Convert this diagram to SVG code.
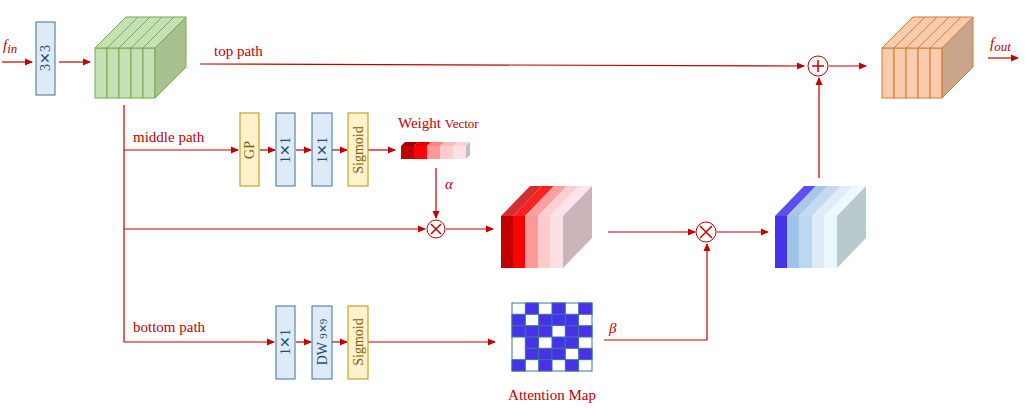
<svg xmlns="http://www.w3.org/2000/svg" width="1026" height="408" viewBox="0 0 1026 408">
<defs>
<marker id="ah" markerWidth="8" markerHeight="8" refX="7" refY="4" orient="auto" markerUnits="userSpaceOnUse"><path d="M0,0.5 L8,4 L0,7.5 Z" fill="#c00000"/></marker>
<style>
.c{stroke:#c00000;stroke-width:1.2;fill:none}
.t{font-family:"Liberation Serif",serif;fill:#c00000;font-size:15px}
.bb{fill:#deebf7;stroke:#41719c;stroke-width:1}
.yb{fill:#fff2cc;stroke:#bf9000;stroke-width:1}
.bt{font-family:"Liberation Serif",serif;fill:#1f4e79;font-size:14px}
.yt{font-family:"Liberation Serif",serif;fill:#7f6000;font-size:14px}
.g{fill:#c5e0b4;stroke:#70ad47;stroke-width:1}
.o{fill:#f8cbad;stroke:#d97b33;stroke-width:1}
</style>
</defs>
<rect width="1026" height="408" fill="#fff"/>
<g id="connectors">
<line class="c" x1="2" y1="62" x2="32" y2="62" marker-end="url(#ah)"/>
<line class="c" x1="59" y1="62" x2="90" y2="62" marker-end="url(#ah)"/>
<line class="c" x1="200" y1="64" x2="804" y2="66" marker-end="url(#ah)"/>
<line class="c" x1="829" y1="66" x2="866" y2="66" marker-end="url(#ah)"/>
<line class="c" x1="988" y1="58" x2="1018" y2="58" marker-end="url(#ah)"/>
<line class="c" x1="124" y1="105" x2="124" y2="342"/>
<line class="c" x1="124" y1="150" x2="238" y2="150" marker-end="url(#ah)"/>
<line class="c" x1="260" y1="150" x2="275" y2="150" marker-end="url(#ah)"/>
<line class="c" x1="296" y1="150" x2="311" y2="150" marker-end="url(#ah)"/>
<line class="c" x1="332" y1="150" x2="347" y2="150" marker-end="url(#ah)"/>
<line class="c" x1="368" y1="150" x2="395" y2="150" marker-end="url(#ah)"/>
<line class="c" x1="436" y1="168" x2="436" y2="218" marker-end="url(#ah)"/>
<line class="c" x1="124" y1="229" x2="425" y2="229" marker-end="url(#ah)"/>
<line class="c" x1="446" y1="229" x2="493" y2="229" marker-end="url(#ah)"/>
<line class="c" x1="608" y1="232" x2="695" y2="232" marker-end="url(#ah)"/>
<line class="c" x1="717" y1="232" x2="768" y2="232" marker-end="url(#ah)"/>
<line class="c" x1="819" y1="178" x2="819" y2="78" marker-end="url(#ah)"/>
<line class="c" x1="124" y1="342" x2="274" y2="342" marker-end="url(#ah)"/>
<line class="c" x1="296" y1="342" x2="311" y2="342" marker-end="url(#ah)"/>
<line class="c" x1="332" y1="342" x2="347" y2="342" marker-end="url(#ah)"/>
<line class="c" x1="368" y1="342" x2="495" y2="342" marker-end="url(#ah)"/>
<polyline class="c" points="604,340 707,340 707,244" marker-end="url(#ah)"/>
</g>
<g id="labels">
<text class="t" x="3" y="50" font-style="italic" font-size="18">f<tspan font-size="13" dy="3">in</tspan></text>
<text class="t" x="990" y="48" font-style="italic" font-size="18">f<tspan font-size="13" dy="3">out</tspan></text>
<text class="t" x="214" y="56">top path</text>
<text class="t" x="133" y="142">middle path</text>
<text class="t" x="133" y="332">bottom path</text>
<text class="t" x="398" y="128">Weight <tspan font-size="13">Vector</tspan></text>
<text class="t" x="445" y="189" font-style="italic">α</text>
<text class="t" x="609" y="333" font-style="italic">β</text>
<text class="t" x="552" y="400" text-anchor="middle">Attention Map</text>
</g>
<g id="conv3">
<rect class="bb" x="36" y="22" width="19" height="73"/>
<text class="bt" transform="translate(50,58) rotate(-90)" text-anchor="middle">3✕3</text>
</g>
<g id="feat">
<rect class="g" x="95" y="48" width="12" height="50"/><rect class="g" x="107" y="48" width="12" height="50"/><rect class="g" x="119" y="48" width="12" height="50"/><rect class="g" x="131" y="48" width="12" height="50"/><rect class="g" x="143" y="48" width="12" height="50"/>
<polygon class="g" points="95,48 126,17 138,17 107,48"/><polygon class="g" points="107,48 138,17 150,17 119,48"/><polygon class="g" points="119,48 150,17 162,17 131,48"/><polygon class="g" points="131,48 162,17 174,17 143,48"/><polygon class="g" points="143,48 174,17 186,17 155,48"/>
<polygon points="155,48 186,17 186,67 155,98" fill="#a9c18f" stroke="#70ad47"/>
</g>
<g id="out">
<rect class="o" x="882" y="48" width="12" height="50"/><rect class="o" x="894" y="48" width="12" height="50"/><rect class="o" x="906" y="48" width="12" height="50"/><rect class="o" x="918" y="48" width="12" height="50"/><rect class="o" x="930" y="48" width="12" height="50"/>
<polygon class="o" points="882,48 913,17 925,17 894,48"/><polygon class="o" points="894,48 925,17 937,17 906,48"/><polygon class="o" points="906,48 937,17 949,17 918,48"/><polygon class="o" points="918,48 949,17 961,17 930,48"/><polygon class="o" points="930,48 961,17 973,17 942,48"/>
<polygon points="942,48 973,17 973,67 942,98" fill="#c9a58b" stroke="#d97b33"/>
</g>
<g id="plus">
<circle cx="818" cy="66" r="10" fill="#fff" stroke="#c00000"/>
<path d="M812,66 H824 M818,60 V72" stroke="#c00000" stroke-width="1.5"/>
</g>
<g id="gp1"><rect class="yb" x="240" y="113" width="19" height="73"/><text class="yt" transform="translate(254,150) rotate(-90)" text-anchor="middle">GP</text></g>
<g id="m1x1a"><rect class="bb" x="276" y="113" width="19" height="73"/><text class="bt" transform="translate(290,150) rotate(-90)" text-anchor="middle">1✕1</text></g>
<g id="m1x1b"><rect class="bb" x="312" y="113" width="20" height="73"/><text class="bt" transform="translate(327,150) rotate(-90)" text-anchor="middle">1✕1</text></g>
<g id="msig"><rect class="yb" x="348" y="113" width="20" height="73"/><text class="yt" transform="translate(363,150) rotate(-90)" text-anchor="middle">Sigmoid</text></g>
<g id="weight">
<polygon points="401,146 405,142 418,142 414,146" fill="#a00000"/>
<polygon points="414,146 418,142 431,142 427,146" fill="#e00000"/>
<polygon points="427,146 431,142 444,142 440,146" fill="#ff8080"/>
<polygon points="440,146 444,142 457,142 453,146" fill="#ffb8b8"/>
<polygon points="453,146 457,142 470,142 466,146" fill="#fcd0d8"/>
<rect x="401" y="146" width="13" height="13" fill="#c00000"/><rect x="414" y="146" width="13" height="13" fill="#ff0000"/><rect x="427" y="146" width="13" height="13" fill="#ff9999"/><rect x="440" y="146" width="13" height="13" fill="#ffcccc"/><rect x="453" y="146" width="13" height="13" fill="#fde0e6"/>
<polygon points="466,146 470,142 470,155 466,159" fill="#bfbfbf"/>
</g>
<g id="mul1"><circle cx="436" cy="229" r="9" fill="#fff" stroke="#c00000"/><path d="M431,224 L441,234 M441,224 L431,234" stroke="#c00000" stroke-width="1.5"/></g>
<g id="redcube">
<polygon points="501,216 530,186 542,186 513,216" fill="#d03030"/>
<polygon points="513,216 542,186 554,186 525,216" fill="#ff2020"/>
<polygon points="525,216 554,186 567,186 538,216" fill="#ffa0a0"/>
<polygon points="538,216 567,186 579,186 550,216" fill="#ffd0d0"/>
<polygon points="550,216 579,186 592,186 563,216" fill="#fde4ea"/>
<rect x="501" y="216" width="12" height="52" fill="#c00000"/><rect x="513" y="216" width="12" height="52" fill="#ff0000"/><rect x="525" y="216" width="13" height="52" fill="#ff9999"/><rect x="538" y="216" width="12" height="52" fill="#ffcccc"/><rect x="550" y="216" width="13" height="52" fill="#fde0e6"/>
<polygon points="563,216 592,186 592,238 563,268" fill="#cbb5b8"/>
</g>
<g id="mul2"><circle cx="706" cy="232" r="10" fill="#fff" stroke="#c00000"/><path d="M700,226 L712,238 M712,226 L700,238" stroke="#c00000" stroke-width="1.5"/></g>
<g id="bluecube">
<polygon points="775,216 804,186 816,186 787,216" fill="#5a4ff0"/>
<polygon points="787,216 816,186 828,186 799,216" fill="#a8c8ea"/>
<polygon points="799,216 828,186 841,186 812,216" fill="#c5daf0"/>
<polygon points="812,216 841,186 853,186 824,216" fill="#e0ecf8"/>
<polygon points="824,216 853,186 866,186 837,216" fill="#ecf9fd"/>
<rect x="775" y="216" width="12" height="52" fill="#4433e8"/><rect x="787" y="216" width="12" height="52" fill="#9dc3e6"/><rect x="799" y="216" width="13" height="52" fill="#bdd7ee"/><rect x="812" y="216" width="12" height="52" fill="#deebf7"/><rect x="824" y="216" width="13" height="52" fill="#e9f8fc"/>
<polygon points="837,216 866,186 866,238 837,268" fill="#b9c9cc"/>
</g>
<g id="b1x1"><rect class="bb" x="276" y="306" width="19" height="73"/><text class="bt" transform="translate(290,342) rotate(-90)" text-anchor="middle">1✕1</text></g>
<g id="bdw"><rect class="bb" x="312" y="306" width="20" height="73"/><text class="bt" transform="translate(327,342) rotate(-90)" text-anchor="middle">DW <tspan font-size="11">9✕9</tspan></text></g>
<g id="bsig"><rect class="yb" x="348" y="306" width="20" height="73"/><text class="yt" transform="translate(363,342) rotate(-90)" text-anchor="middle">Sigmoid</text></g>
<g id="attn" stroke="#41719c" stroke-width="1">
<rect x="512" y="303" width="80" height="68" fill="#fff"/>
<g fill="#4433e8">
<rect x="525.3" y="303" width="13.3" height="11.3"/><rect x="552" y="303" width="13.3" height="11.3"/><rect x="578.7" y="303" width="13.3" height="11.3"/>
<rect x="512" y="314.3" width="13.3" height="11.3"/><rect x="538.7" y="314.3" width="13.3" height="11.3"/><rect x="552" y="314.3" width="13.3" height="11.3"/><rect x="565.3" y="314.3" width="13.3" height="11.3"/>
<rect x="512" y="325.7" width="13.3" height="11.3"/><rect x="525.3" y="325.7" width="13.3" height="11.3"/><rect x="538.7" y="325.7" width="13.3" height="11.3"/><rect x="565.3" y="325.7" width="13.3" height="11.3"/><rect x="578.7" y="325.7" width="13.3" height="11.3"/>
<rect x="525.3" y="337" width="13.3" height="11.3"/><rect x="552" y="337" width="13.3" height="11.3"/><rect x="565.3" y="337" width="13.3" height="11.3"/>
<rect x="525.3" y="348.3" width="13.3" height="11.3"/><rect x="538.7" y="348.3" width="13.3" height="11.3"/><rect x="552" y="348.3" width="13.3" height="11.3"/><rect x="578.7" y="348.3" width="13.3" height="11.3"/>
<rect x="512" y="359.7" width="13.3" height="11.3"/><rect x="538.7" y="359.7" width="13.3" height="11.3"/><rect x="565.3" y="359.7" width="13.3" height="11.3"/>
</g>
</g>
</svg>
